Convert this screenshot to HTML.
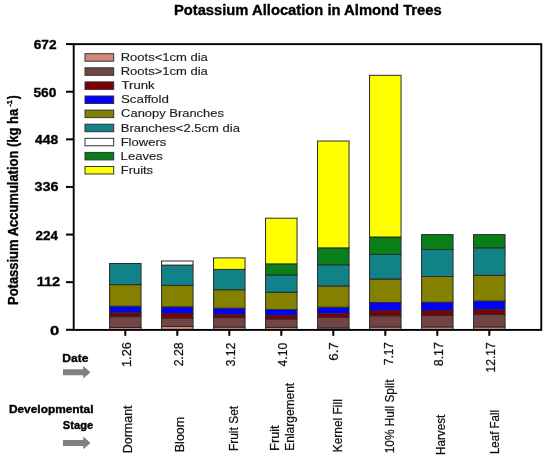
<!DOCTYPE html>
<html><head><meta charset="utf-8"><title>Potassium Allocation in Almond Trees</title>
<style>
html,body{margin:0;padding:0;background:#fff;}
body{width:550px;height:459px;overflow:hidden;}
svg{display:block;filter:blur(0.3px);}
.cb{font-family:"Liberation Sans",Arial,sans-serif;font-weight:bold;fill:#000;stroke:#000;stroke-width:0.35px;}
.cr{font-family:"Liberation Sans",Arial,sans-serif;font-weight:normal;fill:#111;stroke:#111;stroke-width:0.25px;}
.lg{font-family:"Liberation Sans",Arial,sans-serif;font-weight:normal;fill:#1e1e1e;stroke:#1e1e1e;stroke-width:0.15px;}
</style></head><body>
<svg width="550" height="459" viewBox="0 0 550 459">
<rect width="550" height="459" fill="#fff"/>
<g stroke="#2b2b2b" stroke-width="1">
<rect x="109.55" y="327.50" width="31.5" height="2.30" fill="#d4877b"/>
<rect x="109.55" y="316.60" width="31.5" height="10.90" fill="#714545"/>
<rect x="109.55" y="312.80" width="31.5" height="3.80" fill="#800000"/>
<rect x="109.55" y="306.20" width="31.5" height="6.60" fill="#0000ff"/>
<rect x="109.55" y="284.60" width="31.5" height="21.60" fill="#848000"/>
<rect x="109.55" y="263.50" width="31.5" height="21.10" fill="#118287"/>
<rect x="161.55" y="326.50" width="31.5" height="3.30" fill="#d4877b"/>
<rect x="161.55" y="318.00" width="31.5" height="8.50" fill="#714545"/>
<rect x="161.55" y="313.40" width="31.5" height="4.60" fill="#800000"/>
<rect x="161.55" y="306.90" width="31.5" height="6.50" fill="#0000ff"/>
<rect x="161.55" y="285.30" width="31.5" height="21.60" fill="#848000"/>
<rect x="161.55" y="265.10" width="31.5" height="20.20" fill="#118287"/>
<rect x="161.55" y="261.00" width="31.5" height="4.10" fill="#ffffff"/>
<rect x="213.55" y="327.10" width="31.5" height="2.70" fill="#d4877b"/>
<rect x="213.55" y="317.60" width="31.5" height="9.50" fill="#714545"/>
<rect x="213.55" y="314.30" width="31.5" height="3.30" fill="#800000"/>
<rect x="213.55" y="308.20" width="31.5" height="6.10" fill="#0000ff"/>
<rect x="213.55" y="289.70" width="31.5" height="18.50" fill="#848000"/>
<rect x="213.55" y="269.40" width="31.5" height="20.30" fill="#118287"/>
<rect x="213.55" y="257.90" width="31.5" height="11.50" fill="#ffff00"/>
<rect x="265.55" y="327.40" width="31.5" height="2.40" fill="#d4877b"/>
<rect x="265.55" y="319.10" width="31.5" height="8.30" fill="#714545"/>
<rect x="265.55" y="315.20" width="31.5" height="3.90" fill="#800000"/>
<rect x="265.55" y="309.60" width="31.5" height="5.60" fill="#0000ff"/>
<rect x="265.55" y="292.20" width="31.5" height="17.40" fill="#848000"/>
<rect x="265.55" y="275.00" width="31.5" height="17.20" fill="#118287"/>
<rect x="265.55" y="263.90" width="31.5" height="11.10" fill="#098017"/>
<rect x="265.55" y="218.20" width="31.5" height="45.70" fill="#ffff00"/>
<rect x="317.55" y="327.90" width="31.5" height="1.90" fill="#d4877b"/>
<rect x="317.55" y="317.20" width="31.5" height="10.70" fill="#714545"/>
<rect x="317.55" y="313.50" width="31.5" height="3.70" fill="#800000"/>
<rect x="317.55" y="307.20" width="31.5" height="6.30" fill="#0000ff"/>
<rect x="317.55" y="285.90" width="31.5" height="21.30" fill="#848000"/>
<rect x="317.55" y="264.80" width="31.5" height="21.10" fill="#118287"/>
<rect x="317.55" y="247.90" width="31.5" height="16.90" fill="#098017"/>
<rect x="317.55" y="141.00" width="31.5" height="106.90" fill="#ffff00"/>
<rect x="369.55" y="327.00" width="31.5" height="2.80" fill="#d4877b"/>
<rect x="369.55" y="315.70" width="31.5" height="11.30" fill="#714545"/>
<rect x="369.55" y="310.70" width="31.5" height="5.00" fill="#800000"/>
<rect x="369.55" y="302.50" width="31.5" height="8.20" fill="#0000ff"/>
<rect x="369.55" y="279.00" width="31.5" height="23.50" fill="#848000"/>
<rect x="369.55" y="254.30" width="31.5" height="24.70" fill="#118287"/>
<rect x="369.55" y="237.00" width="31.5" height="17.30" fill="#098017"/>
<rect x="369.55" y="75.30" width="31.5" height="161.70" fill="#ffff00"/>
<rect x="421.55" y="326.90" width="31.5" height="2.90" fill="#d4877b"/>
<rect x="421.55" y="315.40" width="31.5" height="11.50" fill="#714545"/>
<rect x="421.55" y="310.60" width="31.5" height="4.80" fill="#800000"/>
<rect x="421.55" y="302.20" width="31.5" height="8.40" fill="#0000ff"/>
<rect x="421.55" y="276.50" width="31.5" height="25.70" fill="#848000"/>
<rect x="421.55" y="249.50" width="31.5" height="27.00" fill="#118287"/>
<rect x="421.55" y="234.60" width="31.5" height="14.90" fill="#098017"/>
<rect x="473.55" y="326.90" width="31.5" height="2.90" fill="#d4877b"/>
<rect x="473.55" y="314.40" width="31.5" height="12.50" fill="#714545"/>
<rect x="473.55" y="309.40" width="31.5" height="5.00" fill="#800000"/>
<rect x="473.55" y="301.00" width="31.5" height="8.40" fill="#0000ff"/>
<rect x="473.55" y="275.30" width="31.5" height="25.70" fill="#848000"/>
<rect x="473.55" y="247.80" width="31.5" height="27.50" fill="#118287"/>
<rect x="473.55" y="234.60" width="31.5" height="13.20" fill="#098017"/>
</g>
<rect x="73.7" y="44.15" width="467.6" height="285.75" fill="none" stroke="#000" stroke-width="1.9"/>
<g stroke="#000" stroke-width="2">
<line x1="66" y1="44.10" x2="73.75" y2="44.10"/>
<line x1="66" y1="91.72" x2="73.75" y2="91.72"/>
<line x1="66" y1="139.33" x2="73.75" y2="139.33"/>
<line x1="66" y1="186.95" x2="73.75" y2="186.95"/>
<line x1="66" y1="234.57" x2="73.75" y2="234.57"/>
<line x1="66" y1="282.18" x2="73.75" y2="282.18"/>
<line x1="66" y1="329.80" x2="73.75" y2="329.80"/>
<line x1="125.30" y1="329.8" x2="125.30" y2="335.8"/>
<line x1="177.30" y1="329.8" x2="177.30" y2="335.8"/>
<line x1="229.30" y1="329.8" x2="229.30" y2="335.8"/>
<line x1="281.30" y1="329.8" x2="281.30" y2="335.8"/>
<line x1="333.30" y1="329.8" x2="333.30" y2="335.8"/>
<line x1="385.30" y1="329.8" x2="385.30" y2="335.8"/>
<line x1="437.30" y1="329.8" x2="437.30" y2="335.8"/>
<line x1="489.30" y1="329.8" x2="489.30" y2="335.8"/>
</g>
<text class="cb" font-size="14.8" x="173.88" y="15.20" textLength="267.83" lengthAdjust="spacingAndGlyphs">Potassium Allocation in Almond Trees</text>
<text class="cb" font-size="13.3" x="33.73" y="48.60" textLength="22.83" lengthAdjust="spacingAndGlyphs">672</text>
<text class="cb" font-size="13.3" x="33.44" y="96.90" textLength="22.88" lengthAdjust="spacingAndGlyphs">560</text>
<text class="cb" font-size="13.3" x="35.03" y="144.20" textLength="23.20" lengthAdjust="spacingAndGlyphs">448</text>
<text class="cb" font-size="13.3" x="34.56" y="191.20" textLength="24.03" lengthAdjust="spacingAndGlyphs">336</text>
<text class="cb" font-size="13.3" x="35.53" y="239.60" textLength="22.39" lengthAdjust="spacingAndGlyphs">224</text>
<text class="cb" font-size="13.3" x="36.86" y="286.30" textLength="23.29" lengthAdjust="spacingAndGlyphs">112</text>
<text class="cb" font-size="13.3" x="49.92" y="334.50" textLength="9.24" lengthAdjust="spacingAndGlyphs">0</text>
<text class="cb" font-size="14.5" transform="translate(17.50,304.99) rotate(-90)" textLength="196.12" lengthAdjust="spacingAndGlyphs">Potassium Accumulation (kg ha</text>
<text class="cb" font-size="7.5" transform="translate(12.30,106.61) rotate(-90)" textLength="6.34" lengthAdjust="spacingAndGlyphs">-1</text>
<text class="cb" font-size="14.5" transform="translate(17.50,99.16) rotate(-90)" textLength="3.96" lengthAdjust="spacingAndGlyphs">)</text>
<text class="cr" font-size="12" transform="translate(130.76,367.01) rotate(-90)" textLength="24.92" lengthAdjust="spacingAndGlyphs">1.26</text>
<text class="cr" font-size="12" transform="translate(182.61,366.31) rotate(-90)" textLength="23.79" lengthAdjust="spacingAndGlyphs">2.28</text>
<text class="cr" font-size="12" transform="translate(234.84,366.61) rotate(-90)" textLength="24.04" lengthAdjust="spacingAndGlyphs">3.12</text>
<text class="cr" font-size="12" transform="translate(286.79,366.53) rotate(-90)" textLength="23.84" lengthAdjust="spacingAndGlyphs">4.10</text>
<text class="cr" font-size="12" transform="translate(337.86,360.77) rotate(-90)" textLength="18.58" lengthAdjust="spacingAndGlyphs">6.7</text>
<text class="cr" font-size="12" transform="translate(393.04,365.05) rotate(-90)" textLength="22.67" lengthAdjust="spacingAndGlyphs">7.17</text>
<text class="cr" font-size="12" transform="translate(442.81,366.26) rotate(-90)" textLength="24.19" lengthAdjust="spacingAndGlyphs">8.17</text>
<text class="cr" font-size="12" transform="translate(494.88,372.41) rotate(-90)" textLength="30.18" lengthAdjust="spacingAndGlyphs">12.17</text>
<text class="cr" font-size="12" transform="translate(132.10,453.23) rotate(-90)" textLength="47.75" lengthAdjust="spacingAndGlyphs">Dormant</text>
<text class="cr" font-size="12" transform="translate(183.80,452.23) rotate(-90)" textLength="35.46" lengthAdjust="spacingAndGlyphs">Bloom</text>
<text class="cr" font-size="12" transform="translate(237.90,451.09) rotate(-90)" textLength="45.27" lengthAdjust="spacingAndGlyphs">Fruit Set</text>
<text class="cr" font-size="12" transform="translate(279.08,450.88) rotate(-90)" textLength="25.54" lengthAdjust="spacingAndGlyphs">Fruit</text>
<text class="cr" font-size="12" transform="translate(293.74,450.78) rotate(-90)" textLength="67.99" lengthAdjust="spacingAndGlyphs">Enlargement</text>
<text class="cr" font-size="12" transform="translate(341.91,452.31) rotate(-90)" textLength="53.14" lengthAdjust="spacingAndGlyphs">Kernel Fill</text>
<text class="cr" font-size="12" transform="translate(394.25,453.29) rotate(-90)" textLength="73.73" lengthAdjust="spacingAndGlyphs">10% Hull Split</text>
<text class="cr" font-size="12" transform="translate(444.92,454.91) rotate(-90)" textLength="40.09" lengthAdjust="spacingAndGlyphs">Harvest</text>
<text class="cr" font-size="12" transform="translate(498.86,454.09) rotate(-90)" textLength="44.20" lengthAdjust="spacingAndGlyphs">Leaf Fall</text>
<text class="cb" font-size="11.6" x="62.39" y="361.60" textLength="26.07" lengthAdjust="spacingAndGlyphs">Date</text>
<text class="cb" font-size="11.2" x="8.91" y="413.10" textLength="84.61" lengthAdjust="spacingAndGlyphs">Developmental</text>
<text class="cb" font-size="11.2" x="62.85" y="428.80" textLength="30.35" lengthAdjust="spacingAndGlyphs">Stage</text>
<text class="lg" font-size="11.2" x="120.67" y="60.90" textLength="87.22" lengthAdjust="spacingAndGlyphs">Roots&lt;1cm dia</text>
<text class="lg" font-size="11.2" x="120.67" y="75.03" textLength="87.22" lengthAdjust="spacingAndGlyphs">Roots&gt;1cm dia</text>
<text class="lg" font-size="11.2" x="121.45" y="89.15" textLength="33.19" lengthAdjust="spacingAndGlyphs">Trunk</text>
<text class="lg" font-size="11.2" x="120.93" y="103.28" textLength="47.99" lengthAdjust="spacingAndGlyphs">Scaffold</text>
<text class="lg" font-size="11.2" x="121.12" y="117.40" textLength="102.83" lengthAdjust="spacingAndGlyphs">Canopy Branches</text>
<text class="lg" font-size="11.2" x="120.76" y="131.53" textLength="119.20" lengthAdjust="spacingAndGlyphs">Branches&lt;2.5cm dia</text>
<text class="lg" font-size="11.2" x="120.65" y="145.65" textLength="45.62" lengthAdjust="spacingAndGlyphs">Flowers</text>
<text class="lg" font-size="11.2" x="120.63" y="159.78" textLength="42.11" lengthAdjust="spacingAndGlyphs">Leaves</text>
<text class="lg" font-size="11.2" x="120.74" y="173.90" textLength="32.35" lengthAdjust="spacingAndGlyphs">Fruits</text>
<path d="M63.0 369.3 H83.2 V366.0 L90.5 372.3 L83.2 378.6 V375.3 H63.0 Z" fill="#808080"/>
<path d="M63.0 439.9 H83.2 V436.6 L90.5 442.9 L83.2 449.2 V445.9 H63.0 Z" fill="#808080"/>
<rect x="85.0" y="53.70" width="28.7" height="7.5" fill="#d4877b" stroke="#333" stroke-width="1"/>
<rect x="85.0" y="67.80" width="28.7" height="7.5" fill="#714545" stroke="#333" stroke-width="1"/>
<rect x="85.0" y="81.90" width="28.7" height="7.5" fill="#800000" stroke="#333" stroke-width="1"/>
<rect x="85.0" y="96.00" width="28.7" height="7.5" fill="#0000ff" stroke="#333" stroke-width="1"/>
<rect x="85.0" y="110.10" width="28.7" height="7.5" fill="#848000" stroke="#333" stroke-width="1"/>
<rect x="85.0" y="124.20" width="28.7" height="7.5" fill="#118287" stroke="#333" stroke-width="1"/>
<rect x="85.0" y="138.30" width="28.7" height="7.5" fill="#ffffff" stroke="#333" stroke-width="1"/>
<rect x="85.0" y="152.40" width="28.7" height="7.5" fill="#098017" stroke="#333" stroke-width="1"/>
<rect x="85.0" y="166.50" width="28.7" height="7.5" fill="#ffff00" stroke="#333" stroke-width="1"/>
</svg>
</body></html>
